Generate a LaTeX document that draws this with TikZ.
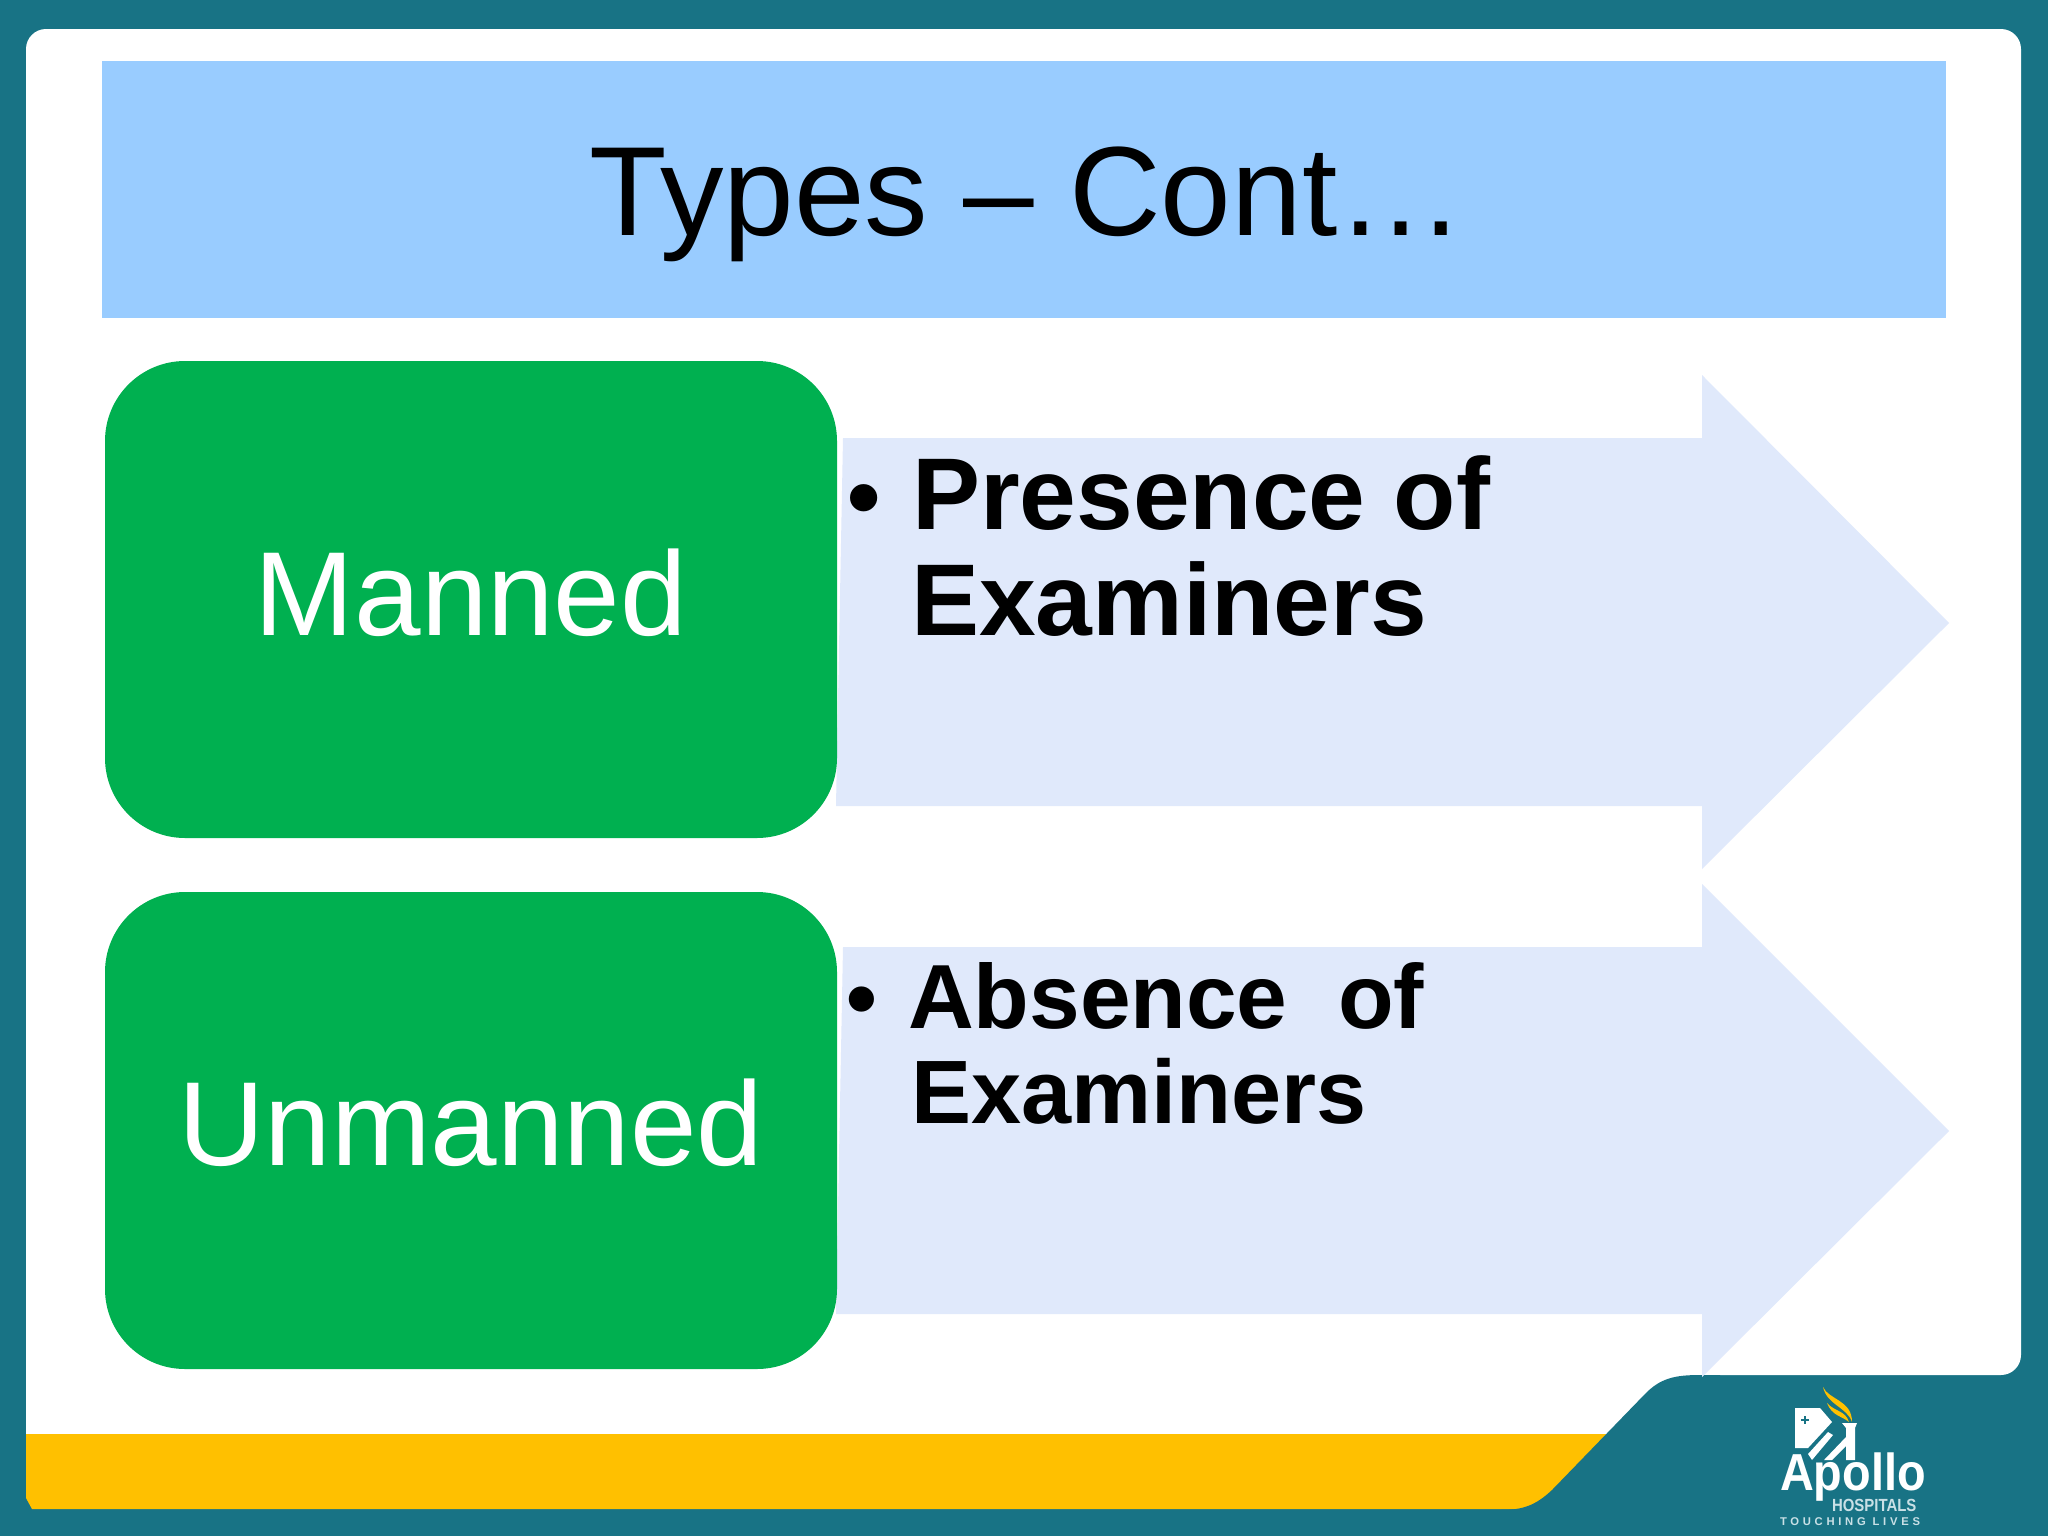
\documentclass[tikz,border=0pt]{standalone}
\usepackage{fontspec}
\setmainfont{Liberation Sans}
\definecolor{teal1}{HTML}{187385}
\definecolor{band}{HTML}{99CCFF}
\definecolor{greenbox}{HTML}{00B050}
\definecolor{arrowfill}{HTML}{E0E9FB}
\definecolor{gold}{HTML}{FFC000}
\definecolor{logotxt}{HTML}{C9E0E6}
\tikzset{
  x=0.01cm,y=-0.01cm,
  txt/.style={inner sep=0pt,outer sep=0pt,anchor=base west},
  ctr/.style={inner sep=0pt,outer sep=0pt,anchor=base},
  greenbox/.style={fill=greenbox,draw=none,rounded corners=0.8cm},
  bigarrow/.style={fill=arrowfill,draw=none},
}
\begin{document}
\begin{tikzpicture}
\useasboundingbox (0,0) rectangle (2048,1536);
\fill[teal1] (0,0) rectangle (2048,1536);
% white panel
\fill[white,rounded corners=0.2cm] (26,29) rectangle (2021,1375);
\fill[white] (26,1300) rectangle (1720,1460);
% footer band and teal notch
\fill[gold] (26,1434) -- (1700,1434) -- (1700,1509) -- (32,1509) -- (26,1498) -- cycle;
\fill[teal1] (1720,1375) -- (1700,1375) .. controls (1675,1375) and (1660,1378) .. (1644,1395)
  -- (1552,1490) .. controls (1535,1506) and (1522,1510) .. (1500,1510) -- (1500,1536) -- (1720,1536) -- cycle;
% title
\fill[band] (102,61) rectangle (1946,318);
\node[ctr,font=\fontsize{36.1}{36.1}\selectfont] (title) at (1027,235) {Types – Cont…};
% arrows
\fill[bigarrow] (843,438) -- (1702,438) -- (1702,375) -- (1949,623) -- (1702,869) -- (1702,806) -- (836,806) -- cycle;
\fill[bigarrow] (843,947) -- (1702,947) -- (1702,884) -- (1949,1131) -- (1702,1377) -- (1702,1314) -- (836,1314) -- cycle;
% green boxes
\fill[greenbox] (105,361) rectangle (837,838);
\fill[greenbox] (105,892) rectangle (837,1369);
\node[ctr,white,font=\fontsize{34}{34}\selectfont] (manned) at (471,635) {Manned};
\node[ctr,white,font=\fontsize{34}{34}\selectfont] (unmanned) at (471,1165) {Unmanned};
% bullets
\node[txt,font=\fontsize{27}{27}\selectfont\bfseries] (b1) at (847,529) {•};
\node[txt,font=\fontsize{29}{29}\selectfont\bfseries] (t1a) at (912,529) {Presence of};
\node[txt,font=\fontsize{29}{29}\selectfont\bfseries] (t1b) at (911,635) {Examiners};
\node[txt,font=\fontsize{25}{25}\selectfont\bfseries] (b2) at (846,1028) {•};
\node[txt,font=\fontsize{25.9}{25.9}\selectfont\bfseries] (t2a) at (908,1028) {Absence\ \ of};
\node[txt,font=\fontsize{25.6}{25.6}\selectfont\bfseries] (t2b) at (911,1123) {Examiners};
% logo
\fill[white] (1795,1408) -- (1820,1408) -- (1832,1422) -- (1808,1448) -- (1795,1448) -- cycle;
\fill[white] (1828,1432) -- (1833,1435) -- (1812,1460) -- (1808,1454) -- cycle;
\fill[white] (1842,1423) -- (1857,1423) -- (1855,1428) -- (1855,1460) -- (1846,1460) -- (1846,1446) -- (1832,1460) -- (1824,1460) -- (1846,1437) -- (1846,1428) -- cycle;
\fill[teal1] (1804,1416) rectangle (1806,1424);
\fill[teal1] (1801,1419) rectangle (1809,1421);
\fill[gold] (1823,1387) .. controls (1829,1400) and (1852,1400) .. (1852,1422) .. controls (1847,1407) and (1827,1405) .. (1823,1387) -- cycle;
\fill[gold] (1827,1403) .. controls (1835,1412) and (1845,1410) .. (1849,1422) .. controls (1842,1416) and (1832,1416) .. (1827,1403) -- cycle;
\node[txt,white,xscale=0.9,font=\fontsize{14.8}{14.8}\selectfont\bfseries] (apollo) at (1780,1490) {Apollo};
\node[txt,logotxt,xscale=0.85,font=\fontsize{5}{5}\selectfont\bfseries] (hosp) at (1832,1511) {HOSPITALS};
\node[txt,logotxt,font=\fontsize{3.2}{3.2}\selectfont\bfseries\addfontfeatures{LetterSpace=33}] (touch) at (1780,1525) {TOUCHING LIVES};
\end{tikzpicture}
\end{document}
